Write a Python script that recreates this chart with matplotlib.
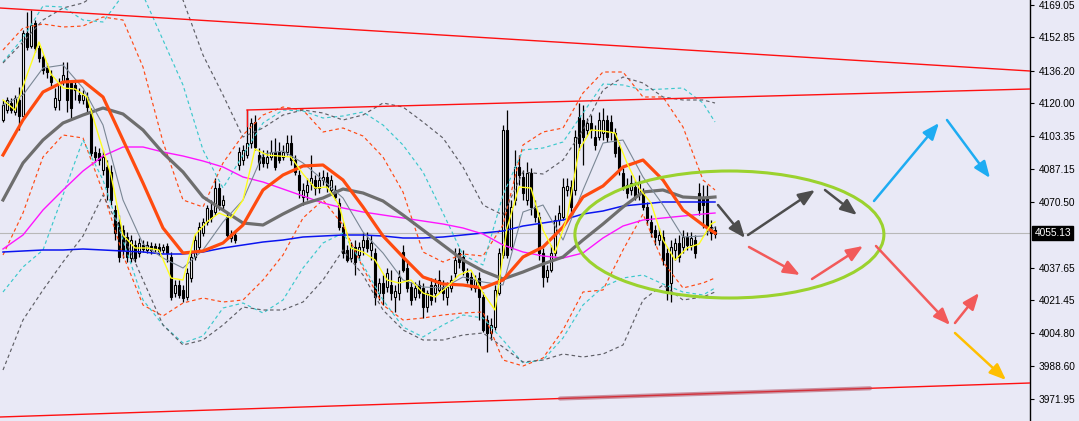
import numpy as np
import matplotlib.pyplot as plt
from matplotlib.patches import Ellipse, FancyArrowPatch
from matplotlib.transforms import blended_transform_factory

# candle data (price), one bar every 4 px in the source screenshot
opens = [
    4111.5, 4116.5, 4120.0, 4115.5, 4121.5, 4113.5, 4155.0, 4148.5, 4160.0, 4147.5,
    4143.0, 4138.0, 4133.5, 4118.0, 4121.5, 4130.5, 4132.5, 4130.0, 4129.0, 4124.0,
    4121.5, 4123.0, 4115.0, 4095.5, 4095.0, 4086.5, 4088.0, 4085.5, 4066.5, 4060.5,
    4056.5, 4053.0, 4042.5, 4049.0, 4045.0, 4049.0, 4046.5, 4048.5, 4048.5, 4048.0,
    4046.5, 4048.5, 4043.0, 4025.0, 4029.0, 4026.5, 4023.0, 4032.5, 4043.0, 4048.0,
    4055.0, 4060.5, 4066.5, 4065.5, 4077.5, 4069.0, 4063.0, 4052.5, 4054.0, 4089.0,
    4091.5, 4094.0, 4100.0, 4110.5, 4094.0, 4093.0, 4090.0, 4093.0, 4095.5, 4095.5,
    4093.0, 4095.5, 4100.0, 4091.5, 4084.0, 4073.0, 4075.5, 4080.0, 4081.5, 4077.5,
    4081.5, 4083.0, 4076.5, 4076.5, 4070.0, 4058.0, 4046.5, 4042.5, 4048.0, 4044.0,
    4048.0, 4051.5, 4046.5, 4045.0, 4025.0, 4030.0, 4028.0, 4029.0, 4023.0, 4025.0,
    4045.5, 4037.5, 4028.0, 4023.0, 4029.0, 4027.5, 4018.0, 4029.0, 4025.0, 4026.5,
    4028.0, 4023.0, 4027.5, 4035.0, 4045.0, 4043.0, 4035.0, 4033.0, 4027.5, 4032.5,
    4023.0, 4011.5, 4005.0, 4008.0, 4025.0, 4044.0, 4106.5, 4048.0, 4071.5, 4088.0,
    4083.0, 4071.5, 4085.0, 4068.0, 4063.0, 4045.0, 4033.0, 4036.5, 4045.0, 4061.5,
    4063.0, 4076.5, 4078.0, 4076.5, 4113.0, 4111.5, 4106.5, 4110.0, 4103.0, 4103.0,
    4105.0, 4111.5, 4110.5, 4105.0, 4098.0, 4085.0, 4079.0, 4076.5, 4078.0, 4075.0,
    4075.0, 4068.0, 4060.5, 4056.5, 4051.5, 4053.0, 4045.0, 4030.0, 4046.5, 4050.0,
    4048.0, 4053.0, 4049.0, 4051.5, 4075.0, 4073.0, 4073.0, 4058.0, 4056.5,
]
closes = [
    4119.0, 4121.5, 4116.5, 4122.5, 4113.5, 4155.0, 4148.0, 4159.0, 4147.5, 4142.5,
    4136.5, 4135.5, 4130.5, 4122.5, 4130.5, 4134.0, 4121.5, 4117.5, 4126.5, 4121.5,
    4124.0, 4118.0, 4095.0, 4093.0, 4091.5, 4093.0, 4078.0, 4071.5, 4055.0, 4043.0,
    4046.5, 4043.0, 4051.5, 4042.5, 4050.0, 4047.0, 4049.0, 4046.5, 4047.0, 4046.0,
    4048.0, 4045.0, 4023.0, 4029.0, 4024.0, 4022.5, 4035.0, 4043.0, 4051.5, 4058.0,
    4060.5, 4067.5, 4062.5, 4077.5, 4069.0, 4071.5, 4054.0, 4054.5, 4051.5, 4095.5,
    4096.5, 4100.0, 4110.0, 4098.0, 4090.0, 4090.0, 4093.0, 4095.5, 4088.0, 4091.5,
    4095.5, 4100.0, 4091.5, 4085.5, 4076.5, 4076.5, 4079.0, 4082.5, 4077.5, 4081.5,
    4083.0, 4078.0, 4081.5, 4073.0, 4058.0, 4045.0, 4041.5, 4048.0, 4040.5, 4048.0,
    4051.5, 4047.5, 4050.0, 4023.0, 4030.0, 4025.0, 4035.0, 4025.0, 4026.0, 4033.0,
    4036.5, 4027.5, 4021.5, 4027.5, 4025.0, 4018.0, 4025.0, 4021.5, 4029.0, 4031.5,
    4025.0, 4028.0, 4031.5, 4041.5, 4040.5, 4036.5, 4031.5, 4028.0, 4031.5, 4023.0,
    4006.5, 4005.0, 4009.0, 4026.5, 4045.0, 4106.5, 4044.0, 4068.0, 4088.0, 4084.0,
    4075.0, 4085.0, 4068.0, 4063.0, 4045.0, 4033.0, 4036.5, 4045.0, 4061.5, 4065.0,
    4078.0, 4078.5, 4068.0, 4103.0, 4100.0, 4103.0, 4110.0, 4106.5, 4099.0, 4111.5,
    4111.5, 4103.0, 4105.5, 4095.0, 4086.5, 4078.0, 4075.0, 4080.0, 4073.0, 4080.0,
    4068.0, 4061.5, 4055.5, 4053.0, 4054.0, 4041.5, 4025.0, 4048.0, 4050.0, 4043.0,
    4053.0, 4049.0, 4052.5, 4045.0, 4066.5, 4069.0, 4058.0, 4055.0, 4054.5,
]
highs = [
    4121.5, 4123.0, 4122.5, 4124.0, 4128.0, 4156.5, 4165.5, 4166.5, 4161.5, 4149.0,
    4144.0, 4140.0, 4136.5, 4127.5, 4132.5, 4140.5, 4140.5, 4131.5, 4131.5, 4127.5,
    4126.5, 4125.5, 4117.5, 4098.5, 4097.5, 4096.5, 4091.5, 4089.0, 4069.0, 4064.0,
    4059.0, 4055.5, 4054.0, 4051.5, 4052.5, 4051.5, 4051.0, 4050.5, 4050.0, 4050.0,
    4049.5, 4050.0, 4045.5, 4031.5, 4031.5, 4029.0, 4037.5, 4046.5, 4054.0, 4060.5,
    4062.5, 4069.0, 4071.5, 4082.5, 4080.0, 4074.0, 4065.5, 4056.5, 4056.5, 4098.0,
    4099.0, 4116.5, 4112.5, 4114.0, 4097.5, 4096.5, 4096.5, 4101.5, 4102.5, 4100.5,
    4099.0, 4104.0, 4104.0, 4094.0, 4086.5, 4080.0, 4082.5, 4094.0, 4084.0, 4085.5,
    4086.5, 4085.5, 4084.0, 4079.0, 4072.5, 4060.5, 4049.0, 4050.5, 4051.5, 4050.5,
    4055.0, 4055.5, 4054.0, 4047.5, 4032.5, 4034.0, 4037.5, 4036.5, 4029.0, 4036.5,
    4049.0, 4040.5, 4030.5, 4030.5, 4031.5, 4030.0, 4026.5, 4032.5, 4032.5, 4036.5,
    4031.5, 4030.5, 4034.0, 4047.5, 4047.5, 4046.5, 4037.5, 4035.5, 4034.0, 4035.5,
    4025.5, 4014.0, 4012.5, 4029.0, 4047.5, 4109.0, 4116.5, 4071.5, 4096.5, 4094.0,
    4086.5, 4090.5, 4087.5, 4071.5, 4065.5, 4047.5, 4039.0, 4049.0, 4064.0, 4069.0,
    4082.5, 4082.5, 4081.5, 4106.5, 4120.0, 4119.0, 4112.5, 4114.0, 4109.0, 4115.5,
    4117.5, 4114.0, 4114.0, 4107.5, 4100.5, 4087.5, 4082.5, 4084.0, 4081.5, 4084.0,
    4077.5, 4070.5, 4064.0, 4059.0, 4057.5, 4056.5, 4047.5, 4051.5, 4052.5, 4054.0,
    4056.5, 4055.5, 4055.5, 4054.0, 4080.0, 4079.0, 4079.0, 4061.5, 4058.5,
]
lows = [
    4110.5, 4115.0, 4115.0, 4114.0, 4106.5, 4112.5, 4146.5, 4147.5, 4145.5, 4140.5,
    4134.5, 4132.5, 4128.5, 4116.5, 4116.5, 4129.0, 4115.5, 4112.5, 4121.5, 4120.0,
    4119.5, 4115.5, 4093.5, 4090.5, 4089.0, 4084.0, 4071.5, 4069.0, 4051.5, 4040.5,
    4042.5, 4040.5, 4040.5, 4040.5, 4043.0, 4045.5, 4045.0, 4044.5, 4045.5, 4044.0,
    4045.0, 4040.5, 4021.5, 4023.0, 4022.5, 4020.5, 4021.5, 4030.5, 4041.5, 4046.5,
    4053.5, 4059.0, 4060.5, 4064.0, 4066.5, 4066.5, 4052.5, 4050.5, 4050.0, 4086.5,
    4089.0, 4092.5, 4097.5, 4096.5, 4086.5, 4088.0, 4087.5, 4091.5, 4086.5, 4090.0,
    4091.5, 4094.0, 4089.0, 4084.0, 4072.5, 4069.0, 4071.5, 4076.5, 4074.0, 4075.0,
    4079.0, 4075.5, 4074.0, 4071.5, 4056.5, 4042.5, 4040.5, 4040.5, 4034.0, 4041.5,
    4044.0, 4045.5, 4041.5, 4019.0, 4021.5, 4019.0, 4025.5, 4021.5, 4015.5, 4021.5,
    4035.5, 4025.5, 4019.0, 4021.5, 4022.5, 4012.5, 4015.5, 4019.0, 4020.5, 4025.5,
    4021.5, 4019.0, 4025.5, 4032.5, 4037.5, 4034.0, 4030.0, 4026.5, 4025.5, 4011.5,
    4005.5, 3995.5, 4001.5, 4006.5, 4024.0, 4042.5, 4042.5, 4046.5, 4069.0, 4079.0,
    4071.5, 4069.0, 4064.0, 4060.5, 4041.5, 4028.0, 4030.5, 4035.5, 4043.5, 4059.0,
    4061.5, 4073.5, 4065.5, 4074.0, 4096.5, 4089.0, 4104.0, 4102.5, 4096.5, 4101.5,
    4101.5, 4100.5, 4101.5, 4093.0, 4084.0, 4076.5, 4072.5, 4074.0, 4071.5, 4071.5,
    4066.5, 4059.0, 4053.0, 4049.0, 4049.0, 4039.0, 4021.5, 4020.5, 4041.5, 4040.5,
    4045.0, 4046.5, 4046.5, 4042.5, 4064.0, 4057.5, 4054.0, 4051.5, 4052.5,
]

# indicator lines at every 5th bar (last point = last bar)
ma_idx = list(range(0, 176, 5)) + [178]
ma_thin = [
    4119.0, 4124.0, 4137.5, 4139.0, 4127.5, 4109.0, 4071.5, 4049.5, 4042.5, 4037.5,
    4046.5, 4060.5, 4071.5, 4094.5, 4096.0, 4090.0, 4081.5, 4072.5, 4055.5, 4045.0,
    4031.5, 4028.0, 4027.5, 4033.0, 4030.5, 4029.0, 4065.5, 4069.0, 4051.5, 4076.5,
    4100.0, 4101.5, 4083.0, 4069.0, 4053.0, 4053.5, 4058.0,
]
ma_orange = [
    4094.0, 4111.5, 4125.5, 4130.5, 4131.0, 4123.0, 4101.5, 4080.0, 4057.5, 4045.0,
    4046.0, 4050.0, 4059.0, 4076.5, 4084.0, 4088.5, 4089.0, 4081.5, 4068.0, 4053.5,
    4043.0, 4033.0, 4029.5, 4029.0, 4027.5, 4031.5, 4043.0, 4048.0, 4058.0, 4073.0,
    4078.5, 4088.0, 4091.5, 4081.5, 4066.5, 4059.0, 4055.0,
]
ma_gray = [
    4071.5, 4090.0, 4101.5, 4110.0, 4114.0, 4117.5, 4114.5, 4106.5, 4095.0, 4085.5,
    4073.0, 4066.5, 4060.0, 4059.0, 4064.5, 4069.5, 4072.5, 4077.0, 4075.0, 4071.0,
    4064.0, 4056.5, 4049.0, 4041.5, 4036.0, 4032.0, 4035.5, 4039.5, 4043.0, 4051.5,
    4059.5, 4068.0, 4075.5, 4076.5, 4073.0, 4072.5, 4073.0,
]
ma_magenta = [
    4047.0, 4054.0, 4066.5, 4076.5, 4086.0, 4093.5, 4098.0, 4098.0, 4095.5, 4093.5,
    4091.0, 4088.0, 4083.0, 4080.5, 4077.0, 4073.5, 4070.0, 4067.5, 4065.5, 4064.0,
    4062.5, 4061.0, 4059.5, 4057.5, 4054.5, 4049.0, 4045.5, 4043.5, 4042.5, 4045.0,
    4052.5, 4058.5, 4061.5, 4062.5, 4063.5, 4064.5, 4065.0,
]
ma_blue = [
    4045.5, 4046.0, 4046.5, 4046.5, 4047.0, 4046.5, 4046.0, 4045.5, 4044.5, 4044.5,
    4045.5, 4047.5, 4049.0, 4050.5, 4051.5, 4053.0, 4053.5, 4054.0, 4054.0, 4053.5,
    4052.5, 4052.5, 4053.0, 4054.0, 4055.0, 4056.0, 4058.5, 4060.0, 4061.5, 4064.5,
    4066.0, 4068.5, 4069.5, 4070.5, 4070.5, 4070.5, 4070.5,
]
bb_orange_up = [
    4146.5, 4157.5, 4159.5, 4158.0, 4158.5, 4163.0, 4161.5, 4138.0, 4100.5, 4071.5,
    4068.0, 4090.0, 4104.0, 4114.0, 4118.0, 4116.5, 4105.5, 4107.5, 4103.5, 4093.0,
    4075.5, 4045.5, 4040.5, 4044.5, 4043.5, 4059.0, 4099.0, 4105.5, 4107.5, 4125.0,
    4135.5, 4135.5, 4123.0, 4123.0, 4108.0, 4081.5, 4076.5,
]
bb_orange_dn = [
    4044.0, 4065.0, 4093.0, 4104.0, 4102.5, 4075.5, 4044.0, 4019.0, 4013.5, 4020.0,
    4022.5, 4020.5, 4021.5, 4031.5, 4044.0, 4062.5, 4071.5, 4059.0, 4037.5, 4019.0,
    4011.5, 4012.5, 4014.0, 4015.0, 4015.5, 3991.5, 3988.5, 3992.5, 4006.5, 4025.5,
    4026.5, 4046.5, 4064.5, 4040.5, 4027.5, 4030.0, 4032.5,
]
bb_cyan_up = [
    4140.5, 4152.5, 4168.5, 4168.0, 4161.5, 4160.5, 4174.0, 4174.0, 4151.5, 4129.0,
    4096.5, 4077.5, 4094.0, 4110.0, 4116.5, 4116.0, 4112.5, 4113.5, 4115.5, 4109.0,
    4099.0, 4085.5, 4065.0, 4044.0, 4039.0, 4074.0, 4096.5, 4097.5, 4100.5, 4115.0,
    4129.5, 4129.0, 4126.5, 4127.0, 4127.5, 4120.0, 4110.5,
]
bb_cyan_dn = [
    4025.5, 4038.0, 4046.5, 4074.0, 4101.5, 4081.5, 4051.5, 4021.5, 4009.0, 4000.0,
    4003.5, 4017.5, 4020.0, 4015.0, 4021.5, 4037.5, 4050.0, 4055.0, 4039.0, 4021.5,
    4008.0, 4003.0, 4009.0, 4014.0, 4012.5, 4001.5, 3990.0, 3991.5, 4002.5, 4019.0,
    4028.0, 4032.5, 4034.0, 4029.5, 4025.5, 4024.0, 4027.5,
]
bb_gray_up = [
    4140.0, 4150.5, 4161.5, 4167.5, 4170.0, 4176.5, 4186.5, 4186.5, 4181.5, 4171.5,
    4144.0, 4124.0, 4103.0, 4107.5, 4114.0, 4116.5, 4115.0, 4111.5, 4114.0, 4120.0,
    4118.0, 4110.5, 4102.5, 4088.0, 4069.0, 4064.0, 4085.5, 4084.5, 4091.5, 4106.5,
    4126.5, 4133.0, 4130.0, 4123.0, 4121.5, 4121.5, 4120.0,
]
bb_gray_dn = [
    3986.5, 4011.5, 4026.5, 4040.5, 4053.5, 4074.0, 4054.0, 4031.5, 4009.0, 3999.0,
    4001.5, 4009.0, 4018.0, 4016.5, 4016.5, 4020.5, 4031.5, 4046.5, 4034.0, 4016.5,
    4006.5, 4001.5, 4001.5, 4004.0, 4005.0, 3998.0, 3990.5, 3991.5, 3994.5, 3993.0,
    3994.5, 3999.0, 4021.5, 4029.0, 4021.5, 4023.0, 4025.5,
]
# fast yellow line, read at every 3rd bar
fast_idx = list(range(0, 178, 3)) + [178]
ma_yellow = [
    4121.5, 4116.5, 4134.0, 4150.5, 4134.5, 4127.5, 4127.0, 4123.0, 4103.0, 4084.0,
    4054.0, 4047.5, 4047.5, 4046.5, 4032.5, 4031.5, 4054.0, 4060.5, 4065.0, 4062.5,
    4071.5, 4097.0, 4094.0, 4093.5, 4093.0, 4084.5, 4077.5, 4078.0, 4069.0, 4047.5,
    4045.5, 4041.5, 4031.5, 4030.0, 4031.5, 4025.0, 4023.0, 4028.0, 4034.0, 4036.5,
    4025.0, 4016.5, 4057.5, 4078.0, 4077.5, 4056.5, 4045.0, 4062.5, 4096.5, 4106.5,
    4106.0, 4105.0, 4090.0, 4077.5, 4070.0, 4051.5, 4041.5, 4047.5, 4049.5, 4059.5,
    4060.5,
]

price_ticks = [4169.05, 4152.85, 4136.20, 4120.00, 4103.35, 4087.15, 4070.50,
               4037.65, 4021.45, 4004.80, 3988.60, 3971.95]
last_price = 4055.13

# hand drawn annotations (bar index, price)
trend_top = [(-0.75, 4167.5), (256.75, 4136.0)]
trend_mid = [(61.0, 4116.5), (256.75, 4127.0)]
trend_low = [(-0.75, 3963.0), (256.75, 3980.0)]
arrows = [
    ((178.75, 4069.0), (185.5, 4052.5), '#4d4d4d'),
    ((186.25, 4054.0), (203.0, 4076.5), '#4d4d4d'),
    ((205.5, 4076.5), (213.5, 4064.0), '#4d4d4d'),
    ((186.5, 4048.0), (199.25, 4034.0), '#f25a5a'),
    ((202.25, 4032.0), (215.0, 4048.5), '#f25a5a'),
    ((218.25, 4048.5), (236.75, 4009.0), '#f25a5a'),
    ((238.0, 4010.0), (244.0, 4025.0), '#f25a5a'),
    ((238.0, 4005.0), (250.75, 3981.5), '#ffbf00'),
    ((217.75, 4071.0), (234.0, 4110.0), '#1eacf2'),
    ((236.0, 4111.5), (246.75, 4082.5), '#1eacf2'),
]

BG = '#e9e9f6'

fig = plt.figure(figsize=(10.79, 4.21), dpi=100, facecolor=BG)
ax = fig.add_axes([0, 0, 1030 / 1079, 1])
ax.set_facecolor(BG)
ax.set_xlim(-0.75, 256.75)
ax.set_ylim(3961.0, 4171.5)

bars = np.arange(len(opens))
o = np.array(opens)
c = np.array(closes)
up = c >= o

ax.axhline(last_price, color='#b8b8b8', lw=0.8, zorder=1)

# candles
ax.vlines(bars, lows, highs, color='black', lw=0.9, zorder=2)
ax.bar(bars[up], (c - o)[up], bottom=o[up], width=0.62, color='white',
       edgecolor='black', linewidth=0.8, zorder=2.5)
ax.bar(bars[~up], (c - o)[~up], bottom=o[~up], width=0.62, color='black',
       edgecolor='black', linewidth=0.8, zorder=2.5)

# bollinger style bands
dash = (0, (3, 2.5))
for vals, col in [(bb_orange_up, '#ff4a14'), (bb_orange_dn, '#ff4a14'),
                  (bb_cyan_up, '#3cc8cc'), (bb_cyan_dn, '#3cc8cc'),
                  (bb_gray_up, '#5f5f66'), (bb_gray_dn, '#5f5f66')]:
    ax.plot(ma_idx, vals, color=col, lw=0.85, ls=dash, zorder=3)

# moving averages
ax.plot(ma_idx, ma_blue, color='#0a14f0', lw=1.1, zorder=4)
ax.plot(ma_idx, ma_magenta, color='#ff14ff', lw=1.0, zorder=4)
ax.plot(ma_idx, ma_gray, color='#6e6e6e', lw=2.3, zorder=4)
ax.plot(ma_idx, ma_thin, color='#7a8795', lw=0.8, zorder=4)
ax.plot(ma_idx, ma_orange, color='#ff4b0f', lw=2.3, zorder=4)
ax.plot(fast_idx, ma_yellow, color='#ffff1e', lw=1.0, zorder=4.5)

# trend lines
for (x0, y0), (x1, y1) in (trend_top, trend_mid, trend_low):
    ax.plot([x0, x1], [y0, y1], color='#ff1010', lw=1.0, zorder=5)
ax.plot([trend_mid[0][0]] * 2, [trend_mid[0][1], 4108.5], color='#ff1010', lw=1.0, zorder=5)
hx = np.array([139.25, 216.75])
hy = np.interp(hx, [trend_low[0][0], trend_low[1][0]], [trend_low[0][1], trend_low[1][1]])
ax.plot(hx, hy, color='#b04a5c', lw=3.0, alpha=0.55, solid_capstyle='round', zorder=5)

# forecast ellipse and arrows
ax.add_patch(Ellipse((181.6, 4054.25), width=77.25, height=63.5, fill=False,
                     ec='#9bd22e', lw=2.2, zorder=6))
for start, end, col in arrows:
    ax.add_patch(FancyArrowPatch(start, end, arrowstyle='-|>,head_length=0.55,head_width=0.22',
                                 mutation_scale=18, lw=1.8, color=col,
                                 shrinkA=0, shrinkB=0, zorder=7))

# right price scale
for side in ('left', 'top', 'bottom'):
    ax.spines[side].set_visible(False)
ax.spines['right'].set_color('black')
ax.spines['right'].set_linewidth(1.0)
ax.set_xticks([])
ax.yaxis.tick_right()
ax.set_yticks(price_ticks)
ax.set_yticklabels(['%.2f' % v for v in price_ticks])
ax.tick_params(axis='y', direction='out', length=3, width=0.8, pad=3,
               labelsize=7.3, colors='black')
for lab in ax.get_yticklabels():
    lab.set_fontfamily('Liberation Sans')

trans = blended_transform_factory(ax.transAxes, ax.transData)
ax.text(1.0045, last_price, '%.2f' % last_price, transform=trans, color='white',
        fontsize=7.3, family='Liberation Sans', va='center', ha='left',
        bbox=dict(boxstyle='square,pad=0.22', fc='black', ec='black'), clip_on=False)

fig.savefig('out.png', dpi=100, facecolor=BG)
